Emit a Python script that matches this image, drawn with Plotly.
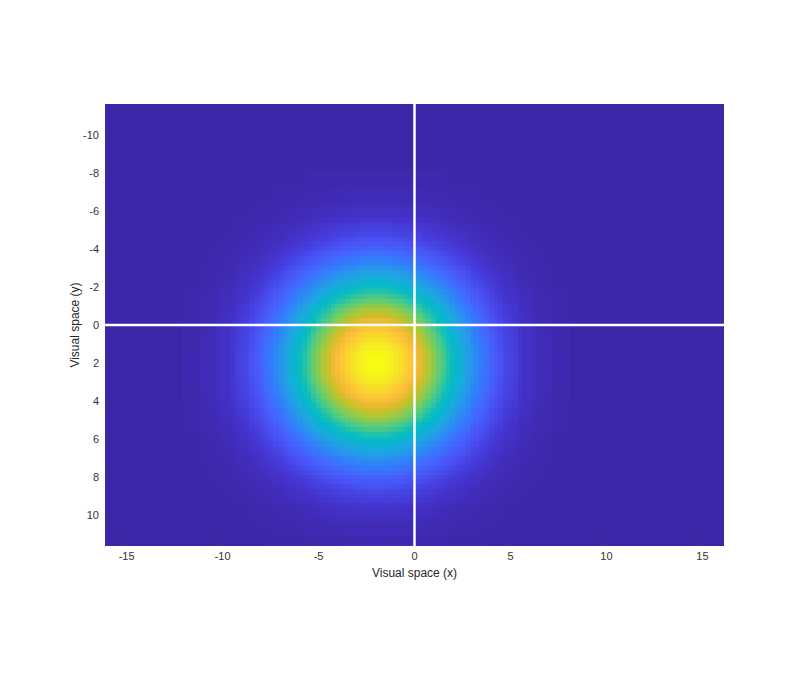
import numpy as np
import plotly.graph_objects as go

# grid of cell centres (0.25 deg cells)
x_cells = np.arange(-16, 16.001, 0.25)
y_cells = np.arange(-11.5, 11.501, 0.25)

# normalised response read along the row through the peak (y = 2), x = -16 .. 16
x_profile = (
    [0.0] * 16
    + [0.01, 0.01, 0.01, 0.01, 0.02, 0.02, 0.02, 0.03, 0.04, 0.04,
       0.05, 0.07, 0.08, 0.09, 0.11, 0.13, 0.15, 0.18, 0.21, 0.24,
       0.27, 0.31, 0.35, 0.39, 0.44, 0.48, 0.53, 0.58, 0.63, 0.68,
       0.72, 0.77, 0.81, 0.85, 0.89, 0.92, 0.95, 0.97, 0.99, 1.00]
    + [1.00]
    + [1.00, 0.99, 0.97, 0.95, 0.92, 0.89, 0.85, 0.81, 0.77, 0.72,
       0.68, 0.63, 0.58, 0.53, 0.48, 0.44, 0.39, 0.35, 0.31, 0.27,
       0.24, 0.21, 0.18, 0.15, 0.13, 0.11, 0.09, 0.08, 0.07, 0.05,
       0.04, 0.04, 0.03, 0.02, 0.02, 0.02, 0.01, 0.01, 0.01, 0.01]
    + [0.0] * 32
)

# normalised response read along the column through the peak (x = -2), y = -11.5 .. 11.5
y_profile = (
    [0.0] * 14
    + [0.01, 0.01, 0.01, 0.01, 0.02, 0.02, 0.02, 0.03, 0.04, 0.04,
       0.05, 0.07, 0.08, 0.09, 0.11, 0.13, 0.15, 0.18, 0.21, 0.24,
       0.27, 0.31, 0.35, 0.39, 0.44, 0.48, 0.53, 0.58, 0.63, 0.68,
       0.72, 0.77, 0.81, 0.85, 0.89, 0.92, 0.95, 0.97, 0.99, 1.00]
    + [1.00]
    + [1.00, 0.99, 0.97, 0.95, 0.92, 0.89, 0.85, 0.81, 0.77, 0.72,
       0.68, 0.63, 0.58, 0.53, 0.48, 0.44, 0.39, 0.35, 0.31, 0.27,
       0.24, 0.21, 0.18, 0.15, 0.13, 0.11, 0.09, 0.08, 0.07, 0.05,
       0.04, 0.04, 0.03, 0.02, 0.02, 0.02, 0.01, 0.01]
)

fixation_x = 0
fixation_y = 0

x_ticks = [-15, -10, -5, 0, 5, 10, 15]
y_ticks = [-10, -8, -6, -4, -2, 0, 2, 4, 6, 8, 10]

z = np.outer(np.array(y_profile), np.array(x_profile))

# matlab parula (old)
parula = [
    (0.2422, 0.1504, 0.6603), (0.2706, 0.2147, 0.8364), (0.2810, 0.3228, 0.9579),
    (0.2602, 0.4123, 0.9952), (0.1834, 0.5074, 0.9798), (0.1540, 0.5902, 0.9218),
    (0.1113, 0.6635, 0.8763), (0.0297, 0.7082, 0.8163), (0.0433, 0.7411, 0.7394),
    (0.1938, 0.7758, 0.6251), (0.3406, 0.8008, 0.4789), (0.5044, 0.7993, 0.3480),
    (0.6720, 0.7793, 0.2227), (0.8203, 0.7498, 0.1535), (0.9393, 0.7288, 0.2100),
    (0.9970, 0.7659, 0.2199), (0.9786, 0.8386, 0.1766), (0.9597, 0.9135, 0.1423),
    (0.9769, 0.9839, 0.0805),
]
n = len(parula) - 1
colorscale = [[i / n, 'rgb(%d,%d,%d)' % tuple(int(round(c * 255)) for c in rgb)]
              for i, rgb in enumerate(parula)]

fig = go.Figure()
fig.add_trace(go.Heatmap(
    x=x_cells, y=y_cells, z=z,
    colorscale=colorscale, zmin=0, zmax=1,
    showscale=False, hoverinfo='skip',
))

fig.add_vline(x=fixation_x, line=dict(color='white', width=2.5))
fig.add_hline(y=fixation_y, line=dict(color='white', width=2.5))

font = dict(family='Liberation Sans, Arial, sans-serif', size=11, color='#333333')

# page body has an 8px margin, so margins are shifted by that
fig.update_layout(
    width=800, height=676,
    margin=dict(l=97, r=84, t=96, b=138),
    paper_bgcolor='white', plot_bgcolor='white',
    font=font,
    showlegend=False,
    xaxis=dict(
        range=[-16.125, 16.125], tickvals=x_ticks, ticktext=[str(t) for t in x_ticks],
        ticks='inside', ticklen=4, tickcolor='#444', ticklabelstandoff=2,
        showgrid=False, zeroline=False, showline=False,
        title=dict(text='Visual space (x)', font=dict(size=12, color='#262626'), standoff=7),
    ),
    yaxis=dict(
        range=[11.625, -11.625], tickvals=y_ticks, ticktext=[str(t) for t in y_ticks],
        ticks='inside', ticklen=4, tickcolor='#444', ticklabelstandoff=5,
        showgrid=False, zeroline=False, showline=False,
        title=dict(text='Visual space (y)', font=dict(size=12, color='#262626'), standoff=0),
    ),
)

fig.write_html("out.html")
